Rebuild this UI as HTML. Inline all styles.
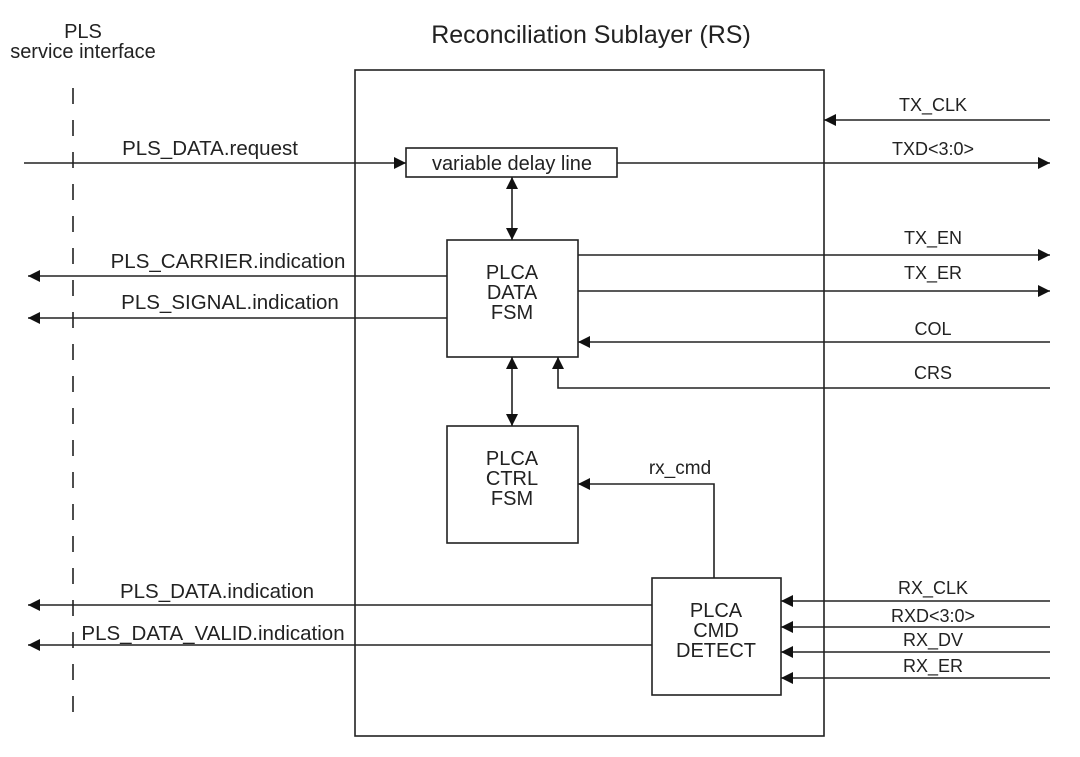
<!DOCTYPE html>
<html><head><meta charset="utf-8"><style>html,body{margin:0;padding:0;background:#fff}</style></head>
<body>
<svg width="1080" height="752" viewBox="0 0 1080 752" xmlns="http://www.w3.org/2000/svg" font-family="Liberation Sans, Arial, sans-serif" fill="#222">
<defs>
<marker id="a" viewBox="0 0 10 10" refX="10" refY="5" markerWidth="12" markerHeight="12" markerUnits="userSpaceOnUse" orient="auto-start-reverse"><path d="M0,0 L10,5 L0,10 z" fill="#111"/></marker>
</defs>
<g stroke="#222" stroke-width="1.6" fill="none">
<line x1="73" y1="88" x2="73" y2="722" stroke-dasharray="16,16"/>
<rect x="355" y="70" width="469" height="666"/>
<rect x="406" y="148" width="211" height="29"/>
<rect x="447" y="240" width="131" height="117"/>
<rect x="447" y="426" width="131" height="117"/>
<rect x="652" y="578" width="129" height="117"/>
<line x1="1050" y1="120" x2="824" y2="120" marker-end="url(#a)"/>
<line x1="617" y1="163" x2="1050" y2="163" marker-end="url(#a)"/>
<line x1="24" y1="163" x2="406" y2="163" marker-end="url(#a)"/>
<line x1="512" y1="177" x2="512" y2="240" marker-start="url(#a)" marker-end="url(#a)"/>
<line x1="512" y1="357" x2="512" y2="426" marker-start="url(#a)" marker-end="url(#a)"/>
<line x1="578" y1="255" x2="1050" y2="255" marker-end="url(#a)"/>
<line x1="578" y1="291" x2="1050" y2="291" marker-end="url(#a)"/>
<line x1="1050" y1="342" x2="578" y2="342" marker-end="url(#a)"/>
<polyline points="1050,388 558,388 558,357" marker-end="url(#a)"/>
<line x1="447" y1="276" x2="28" y2="276" marker-end="url(#a)"/>
<line x1="447" y1="318" x2="28" y2="318" marker-end="url(#a)"/>
<polyline points="714,578 714,484 578,484" marker-end="url(#a)"/>
<line x1="652" y1="605" x2="28" y2="605" marker-end="url(#a)"/>
<line x1="652" y1="645" x2="28" y2="645" marker-end="url(#a)"/>
<line x1="1050" y1="601" x2="781" y2="601" marker-end="url(#a)"/>
<line x1="1050" y1="627" x2="781" y2="627" marker-end="url(#a)"/>
<line x1="1050" y1="652" x2="781" y2="652" marker-end="url(#a)"/>
<line x1="1050" y1="678" x2="781" y2="678" marker-end="url(#a)"/>
</g>
<g font-size="18" text-anchor="middle">
<text x="591" y="43" font-size="25">Reconciliation Sublayer (RS)</text>
<text x="83" y="38" font-size="20">PLS</text>
<text x="83" y="58" font-size="20">service interface</text>
<text x="512" y="170" font-size="20">variable delay line</text>
<text x="210" y="155" font-size="20.5">PLS_DATA.request</text>
<text x="228" y="268" font-size="20.5">PLS_CARRIER.indication</text>
<text x="230" y="309" font-size="20.5">PLS_SIGNAL.indication</text>
<text x="217" y="598" font-size="20.5">PLS_DATA.indication</text>
<text x="213" y="640" font-size="20.5">PLS_DATA_VALID.indication</text>
<text x="933" y="111">TX_CLK</text>
<text x="933" y="155">TXD&lt;3:0&gt;</text>
<text x="933" y="244">TX_EN</text>
<text x="933" y="279">TX_ER</text>
<text x="933" y="335">COL</text>
<text x="933" y="379">CRS</text>
<text x="680" y="474" font-size="19">rx_cmd</text>
<text x="933" y="594">RX_CLK</text>
<text x="933" y="622">RXD&lt;3:0&gt;</text>
<text x="933" y="646">RX_DV</text>
<text x="933" y="672">RX_ER</text>
<g font-size="20">
<text x="512" y="279">PLCA</text><text x="512" y="299">DATA</text><text x="512" y="319">FSM</text>
<text x="512" y="465">PLCA</text><text x="512" y="485">CTRL</text><text x="512" y="505">FSM</text>
<text x="716" y="617">PLCA</text><text x="716" y="637">CMD</text><text x="716" y="657">DETECT</text>
</g>
</g>
</svg>
</body></html>
